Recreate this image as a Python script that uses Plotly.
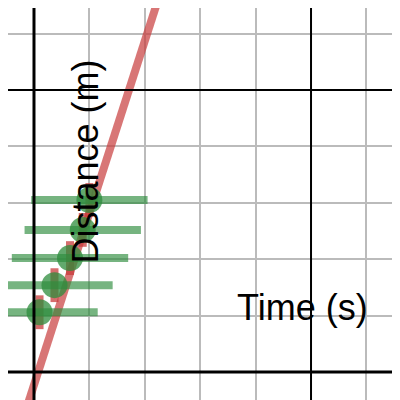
import plotly.graph_objects as go

# data
time_s = [0.1, 0.37, 0.65, 0.88, 1.0]
dist_m = [1.06, 1.54, 2.02, 2.52, 3.05]
time_err = [1.05, 1.05, 1.05, 1.05, 1.05]
dist_err = [0.3, 0.3, 0.3, 0.3, 0.3]
fit_x = [-0.2, 2.5]
fit_y = [3.05 * x - 0.23 for x in fit_x]

W = H = 392  # page has 8px body margin

fig = go.Figure()
fig.add_trace(go.Scatter(x=fit_x, y=fit_y, mode='lines',
                         line=dict(color='rgba(200,60,60,0.7)', width=8)))
fig.add_trace(go.Scatter(x=time_s, y=dist_m, mode='markers',
                         marker=dict(size=0.1, color='rgba(0,0,0,0)'),
                         error_y=dict(type='data', array=dist_err, color='rgba(200,60,60,0.75)',
                                      thickness=8, width=0)))
fig.add_trace(go.Scatter(x=time_s, y=dist_m, mode='markers',
                         marker=dict(size=26, color='rgba(45,140,60,0.75)'),
                         error_x=dict(type='data', array=time_err, color='rgba(45,140,60,0.65)',
                                      thickness=8, width=0)))

for v in [0, 5]:
    fig.add_shape(type='line', x0=v, x1=v, y0=0, y1=1, yref='paper', line=dict(color='black', width=2 if v else 3))
    fig.add_shape(type='line', y0=v, y1=v, x0=0, x1=1, xref='paper', line=dict(color='black', width=2 if v else 3))

fig.add_annotation(x=362 / W, y=(H - 322) / H, xref='paper', yref='paper', text='Time (s)', showarrow=False,
                   xanchor='right', font=dict(family='Arial', size=36, color='black'))
fig.add_annotation(x=54 / W, y=(H - 154) / H, xref='paper', yref='paper', text='Distance (m)',
                   showarrow=False, textangle=-90, font=dict(family='Arial', size=36, color='black'))

fig.update_layout(width=W, height=H, margin=dict(l=0, r=0, t=0, b=0),
                  plot_bgcolor='white', paper_bgcolor='white', showlegend=False,
                  xaxis=dict(range=[-0.469, 6.606], dtick=1, showgrid=True, gridcolor='#bbbbbb',
                             gridwidth=1.5, zeroline=False, showticklabels=False),
                  yaxis=dict(range=[-0.496, 6.454], dtick=1, showgrid=True, gridcolor='#bbbbbb',
                             gridwidth=1.5, zeroline=False, showticklabels=False))
fig.write_html("out.html")
